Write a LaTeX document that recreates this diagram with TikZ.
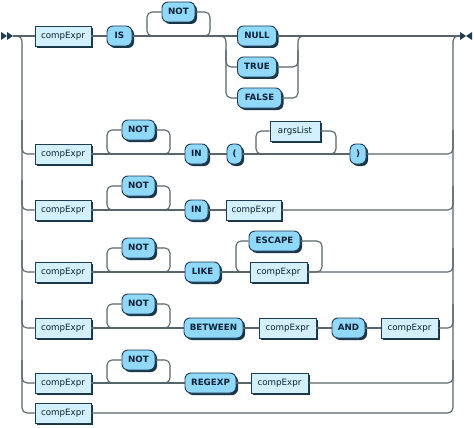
\documentclass[tikz,border=0pt]{standalone}
\usepackage{fontspec}
\setmainfont{DejaVu Sans}
\usetikzlibrary{shadows}
\definecolor{rrline}{HTML}{56646C}
\definecolor{rrborder}{HTML}{1E3C52}
\definecolor{rrshadow}{HTML}{183548}
\definecolor{rrterm}{HTML}{90D8FC}
\definecolor{rrnterm}{HTML}{D2F0FD}
\definecolor{rrtext}{HTML}{0B2233}
\tikzset{
  rrshad/.style={drop shadow={shadow xshift=2pt, shadow yshift=-2pt, fill=rrshadow, opacity=1}},
  term/.style={draw=rrborder, fill=rrterm, rounded corners=6pt, line width=0.9pt,
    inner sep=0pt, minimum height=20pt, text height=6.5pt, text depth=1.7pt,
    font=\fontsize{8.7}{10}\selectfont\bfseries, text=rrtext, rrshad},
  nterm/.style={draw=rrborder, fill=rrnterm, line width=0.8pt,
    inner sep=0pt, minimum height=20pt, text height=6.5pt, text depth=1.7pt,
    font=\fontsize{8.7}{10}\selectfont, text=rrtext, rrshad},
  conn/.style={draw=rrline, line width=1.1pt},
  rr/.style={conn, rounded corners=5pt},
  marker/.style={fill=rrborder, draw=none}
}
\begin{document}
\begin{tikzpicture}[x=1pt,y=-1pt]
\useasboundingbox (0,0) rectangle (474,428);
% markers
\fill[marker] (1,32) -- (7,36) -- (1,40) -- cycle;
\fill[marker] (7,32) -- (13,36) -- (7,40) -- cycle;
\fill[marker] (460,32) -- (466,36) -- (460,40) -- cycle;
\fill[marker] (472,32) -- (466,36) -- (472,40) -- cycle;
\coordinate (start) at (13,36);
\coordinate (endm) at (460,36);

% ---------- Row 1 ----------
\node[nterm, minimum width=56pt] (c1) at (63,36) {compExpr};
\node[term, minimum width=25pt] (is1) at (119.5,36) {IS};
\node[term, minimum width=33pt] (not1) at (178.5,12) {NOT};
\node[term, minimum width=39pt] (null) at (257,36) {NULL};
\node[term, minimum width=39pt] (true) at (257,67) {TRUE};
\node[term, minimum width=44pt] (false) at (259.5,98) {FALSE};
\draw[conn] (start) -- (c1.west);
\draw[conn] (c1.east) -- (is1.west);
\draw[conn] (is1.east) -- (null.west);
\draw[conn] (null.east) -- (endm);
\draw[rr] (not1.west) -| (147,36) -- (157,36);
\draw[rr] (200,36) -| (210,12) -- (not1.east);
\draw[rr] (216,36) -| (226,98) -- (false.west);
\draw[rr] (226,50) |- (true.west);
\draw[rr] (false.east) -| (298,36) -- (308,36);
\draw[rr] (true.east) -| (298,50);

% left and right rails
\node[nterm, minimum width=56pt] (c7) at (63,413) {compExpr};
\draw[rr] (start) -| (22,413) -- (c7.west);
\draw[rr] (c7.east) -| (453,36) -- (endm);

% ---------- Row 2 ----------
\node[nterm, minimum width=56pt] (c2) at (63,154) {compExpr};
\node[term, minimum width=33pt] (not2) at (138.5,130) {NOT};
\node[term, minimum width=23pt] (in2) at (196.5,154) {IN};
\node[term, minimum width=15pt] (lp) at (234.5,154) {(};
\node[nterm, minimum width=50pt] (args) at (295,131) {argsList};
\node[term, minimum width=16pt] (rp) at (358,154) {)};
\draw[rr] (22,120) |- (c2.west);
\draw[conn] (c2.east) -- (in2.west);
\draw[rr] (not2.west) -| (107,154) -- (117,154);
\draw[rr] (160,154) -| (170,130) -- (not2.east);
\draw[conn] (in2.east) -- (lp.west);
\draw[conn] (lp.east) -- (rp.west);
\draw[rr] (args.west) -| (256,154) -- (266,154);
\draw[rr] (326,154) -| (336,131) -- (args.east);
\draw[rr] (rp.east) -| (453,130);

% ---------- Row 3 ----------
\node[nterm, minimum width=56pt] (c3) at (63,210) {compExpr};
\node[term, minimum width=33pt] (not3) at (138.5,186) {NOT};
\node[term, minimum width=23pt] (in3) at (196.5,210) {IN};
\node[nterm, minimum width=55pt] (c3b) at (253.5,210) {compExpr};
\draw[rr] (22,180) |- (c3.west);
\draw[conn] (c3.east) -- (in3.west);
\draw[rr] (not3.west) -| (107,210) -- (117,210);
\draw[rr] (160,210) -| (170,186) -- (not3.east);
\draw[conn] (in3.east) -- (c3b.west);
\draw[rr] (c3b.east) -| (453,186);

% ---------- Row 4 ----------
\node[nterm, minimum width=56pt] (c4) at (63,272) {compExpr};
\node[term, minimum width=33pt] (not4) at (138.5,248) {NOT};
\node[term, minimum width=35pt] (like) at (202.5,272) {LIKE};
\node[term, minimum width=51pt] (esc) at (274.5,241) {ESCAPE};
\node[nterm, minimum width=57pt] (c4b) at (278.5,272) {compExpr};
\draw[rr] (22,240) |- (c4.west);
\draw[conn] (c4.east) -- (like.west);
\draw[rr] (not4.west) -| (107,272) -- (117,272);
\draw[rr] (160,272) -| (170,248) -- (not4.east);
\draw[conn] (like.east) -- (c4b.west);
\draw[rr] (esc.west) -| (236,272) -- (246,272);
\draw[rr] (c4b.east) -| (322,241) -- (esc.east);
\draw[rr] (c4b.east) -| (453,248);

% ---------- Row 5 ----------
\node[nterm, minimum width=56pt] (c5) at (63,328) {compExpr};
\node[term, minimum width=33pt] (not5) at (138.5,304) {NOT};
\node[term, minimum width=59pt] (betw) at (213.5,328) {BETWEEN};
\node[nterm, minimum width=57pt] (c5b) at (287.5,328) {compExpr};
\node[term, minimum width=33pt] (and) at (348.5,328) {AND};
\node[nterm, minimum width=57pt] (c5c) at (409.5,328) {compExpr};
\draw[rr] (22,300) |- (c5.west);
\draw[conn] (c5.east) -- (betw.west);
\draw[rr] (not5.west) -| (107,328) -- (117,328);
\draw[rr] (160,328) -| (170,304) -- (not5.east);
\draw[conn] (betw.east) -- (c5b.west);
\draw[conn] (c5b.east) -- (and.west);
\draw[conn] (and.east) -- (c5c.west);
\draw[rr] (c5c.east) -| (453,304);

% ---------- Row 6 ----------
\node[nterm, minimum width=56pt] (c6) at (63,383) {compExpr};
\node[term, minimum width=33pt] (not6) at (138.5,360) {NOT};
\node[term, minimum width=51pt] (regexp) at (210.5,383) {REGEXP};
\node[nterm, minimum width=57pt] (c6b) at (279.5,383) {compExpr};
\draw[rr] (22,360) |- (c6.west);
\draw[conn] (c6.east) -- (regexp.west);
\draw[rr] (not6.west) -| (107,383) -- (117,383);
\draw[rr] (160,383) -| (170,360) -- (not6.east);
\draw[conn] (regexp.east) -- (c6b.west);
\draw[rr] (c6b.east) -| (453,360);
\end{tikzpicture}
\end{document}
